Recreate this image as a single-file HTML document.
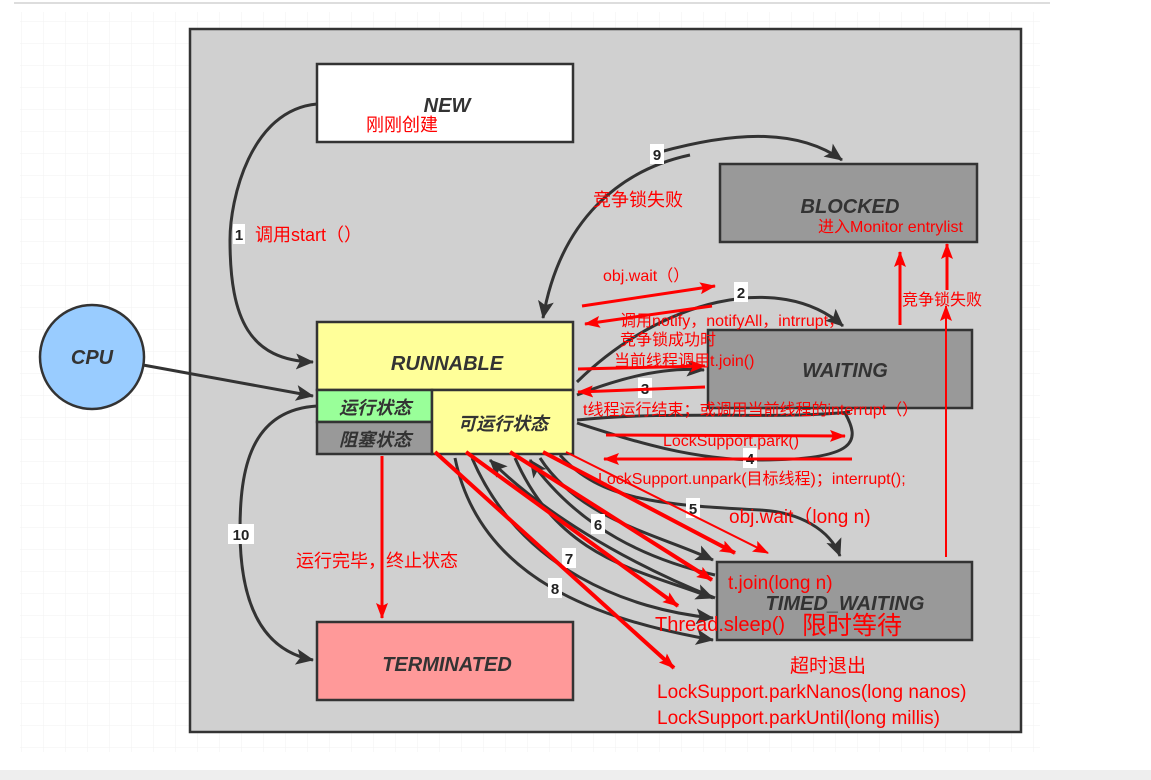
<!DOCTYPE html>
<html><head><meta charset="utf-8"><style>
html,body{margin:0;padding:0;background:#fff;}
svg{display:block;}
text{font-family:"Liberation Sans","Noto Sans CJK SC",sans-serif;}
</style></head><body>
<svg width="1151" height="780" viewBox="0 0 1151 780" xmlns="http://www.w3.org/2000/svg">
<defs>
<pattern id="g" width="22" height="22" patternUnits="userSpaceOnUse"><path d="M22 0V22H0" fill="none" stroke="#f2f2f2" stroke-width="1"/></pattern>
<marker id="ad" markerWidth="18" markerHeight="16" refX="17" refY="8" orient="auto" markerUnits="userSpaceOnUse"><path d="M0,0 L18,8 L0,16 L4,8z" fill="#333"/></marker>
<marker id="ar" markerWidth="16" markerHeight="12" refX="15" refY="6" orient="auto" markerUnits="userSpaceOnUse"><path d="M0,0 L16,6 L0,12 L3,6z" fill="#f00"/></marker>
</defs>
<rect x="0" y="0" width="1151" height="780" fill="#fff"/>
<line x1="14" y1="3" x2="1050" y2="3" stroke="#bbb"/>
<rect x="20" y="12" width="1020" height="740" fill="url(#g)"/>
<rect x="0" y="770" width="1151" height="10" fill="#eee"/>
<rect x="190" y="29" width="831" height="703" fill="#d0d0d0" stroke="#333" stroke-width="2.5"/>

<g fill="none" stroke="#333" stroke-width="3">
<path d="M317,104 C250,110 230,200 230,240 C230,320 250,360 313,362" marker-end="url(#ad)"/>
<path d="M143,365 L313,396" marker-end="url(#ad)"/>
<path d="M317,406 C250,410 240,470 240,530 C240,600 260,650 313,660" marker-end="url(#ad)"/>
<path d="M690,155 C620,170 560,220 543,318" marker-end="url(#ad)"/>
<path d="M660,152 C740,130 800,130 842,160" marker-end="url(#ad)"/>
<path d="M577,382 C660,300 780,270 843,326" marker-end="url(#ad)"/>
<path d="M577,395 C640,370 680,368 704,370" marker-end="url(#ad)"/>
<path d="M845,413 C860,440 860,460 760,460 C690,460 630,440 577,423"/>
<path d="M577,420 C680,410 770,420 850,412"/>
<path d="M560,455 C600,500 660,505 760,510 C800,512 830,530 840,556" marker-end="url(#ad)"/>
<path d="M540,458 C580,520 660,535 713,560" marker-end="url(#ad)"/>
<path d="M515,458 C560,560 640,570 713,598" marker-end="url(#ad)"/>
<path d="M472,458 C520,570 630,610 713,618" marker-end="url(#ad)"/>
<path d="M455,458 C480,580 600,620 713,640" marker-end="url(#ad)"/>
<path d="M715,575 C650,560 580,530 530,460" marker-end="url(#ad)"/>
<path d="M715,598 C620,560 540,510 490,460" marker-end="url(#ad)"/>
</g>

<rect x="317" y="64" width="256" height="78" fill="#fff" stroke="#333" stroke-width="2.5"/>
<rect x="720" y="164" width="257" height="78" fill="#999" stroke="#333" stroke-width="2.5"/>
<rect x="317" y="322" width="256" height="68" fill="#ffff99" stroke="#333" stroke-width="2.5"/>
<rect x="317" y="390" width="115" height="32" fill="#99ff99" stroke="#333" stroke-width="2.5"/>
<rect x="317" y="422" width="115" height="32" fill="#999" stroke="#333" stroke-width="2.5"/>
<rect x="432" y="390" width="141" height="64" fill="#ffff99" stroke="#333" stroke-width="2.5"/>
<rect x="708" y="330" width="264" height="78" fill="#999" stroke="#333" stroke-width="2.5"/>
<rect x="717" y="562" width="255" height="78" fill="#999" stroke="#333" stroke-width="2.5"/>
<rect x="317" y="622" width="256" height="78" fill="#ff9999" stroke="#333" stroke-width="2.5"/>
<circle cx="92" cy="357" r="52" fill="#99ccff" stroke="#333" stroke-width="2.5"/>

<g font-weight="bold" font-style="italic" fill="#333" font-size="20" text-anchor="middle">
<text x="447" y="112">NEW</text>
<text x="850" y="213">BLOCKED</text>
<text x="447" y="370">RUNNABLE</text>
<text x="845" y="377">WAITING</text>
<text x="845" y="610">TIMED_WAITING</text>
<text x="447" y="671">TERMINATED</text>
<text x="92" y="364">CPU</text>
<text x="375" y="414" font-size="18">运行状态</text>
<text x="375" y="446" font-size="18">阻塞状态</text>
<text x="503" y="430" font-size="18">可运行状态</text>
</g>

<g font-size="15" font-weight="bold" fill="#222" text-anchor="middle">
<rect x="233" y="224" width="12" height="20" fill="#fff"/><text x="239" y="240">1</text>
<rect x="650" y="144" width="14" height="20" fill="#fff"/><text x="657" y="160">9</text>
<rect x="734" y="282" width="14" height="20" fill="#fff"/><text x="741" y="298">2</text>
<rect x="638" y="378" width="14" height="20" fill="#fff"/><text x="645" y="394">3</text>
<rect x="743" y="448" width="14" height="20" fill="#fff"/><text x="750" y="464">4</text>
<rect x="686" y="498" width="14" height="20" fill="#fff"/><text x="693" y="514">5</text>
<rect x="591" y="514" width="14" height="20" fill="#fff"/><text x="598" y="530">6</text>
<rect x="562" y="548" width="14" height="20" fill="#fff"/><text x="569" y="564">7</text>
<rect x="548" y="578" width="14" height="20" fill="#fff"/><text x="555" y="594">8</text>
<rect x="228" y="524" width="26" height="20" fill="#fff"/><text x="241" y="540">10</text>
</g>

<g stroke="#f00" stroke-width="3" fill="none">
<path d="M582,306 L715,286" marker-end="url(#ar)"/>
<path d="M712,306 L585,324" marker-end="url(#ar)"/>
<path d="M578,369 L705,366" marker-end="url(#ar)"/>
<path d="M705,387 L578,392" marker-end="url(#ar)"/>
<path d="M606,435 L845,436" marker-end="url(#ar)"/>
<path d="M852,459 L604,459" marker-end="url(#ar)"/>
<path d="M900,325 L900,252" marker-end="url(#ar)"/>
<path d="M947,290 L947,244" marker-end="url(#ar)"/>
<path d="M946,557 L946,306" marker-end="url(#ar)" stroke-width="2"/>
<path d="M382,456 L382,618" marker-end="url(#ar)"/>
<path d="M543,452 L735,553" marker-end="url(#ar)" stroke-width="4"/>
<path d="M510,452 L712,580" marker-end="url(#ar)" stroke-width="4"/>
<path d="M466,452 L678,606" marker-end="url(#ar)" stroke-width="4"/>
<path d="M435,452 L674,668" marker-end="url(#ar)" stroke-width="4"/>
<path d="M566,452 L768,553" marker-end="url(#ar)" stroke-width="2"/>
</g>

<g fill="#f00" font-size="16">
<text x="366" y="131" font-size="18">刚刚创建</text>
<text x="255" y="241" font-size="18">调用start（）</text>
<text x="593" y="206" font-size="18">竞争锁失败</text>
<text x="818" y="232">进入Monitor entrylist</text>
<text x="603" y="281">obj.wait（）</text>
<text x="620" y="326">调用notify，notifyAll，intrrupt，</text>
<text x="620" y="345">竞争锁成功时</text>
<text x="614" y="366">当前线程调用t.join()</text>
<text x="583" y="415">t线程运行结束；或调用当前线程的interrupt（）</text>
<text x="663" y="446">LockSupport.park()</text>
<text x="598" y="484">LockSupport.unpark(目标线程)；interrupt();</text>
<text x="902" y="305">竞争锁失败</text>
<text x="729" y="523" font-size="19">obj.wait（long n)</text>
<text x="296" y="567" font-size="18">运行完毕，终止状态</text>
<text x="728" y="589" font-size="19">t.join(long n)</text>
<text x="655" y="631" font-size="20">Thread.sleep()</text>
<text x="802" y="634" font-size="25">限时等待</text>
<text x="790" y="672" font-size="19">超时退出</text>
<text x="657" y="698" font-size="19">LockSupport.parkNanos(long nanos)</text>
<text x="657" y="724" font-size="19">LockSupport.parkUntil(long millis)</text>
</g>
</svg>
</body></html>
